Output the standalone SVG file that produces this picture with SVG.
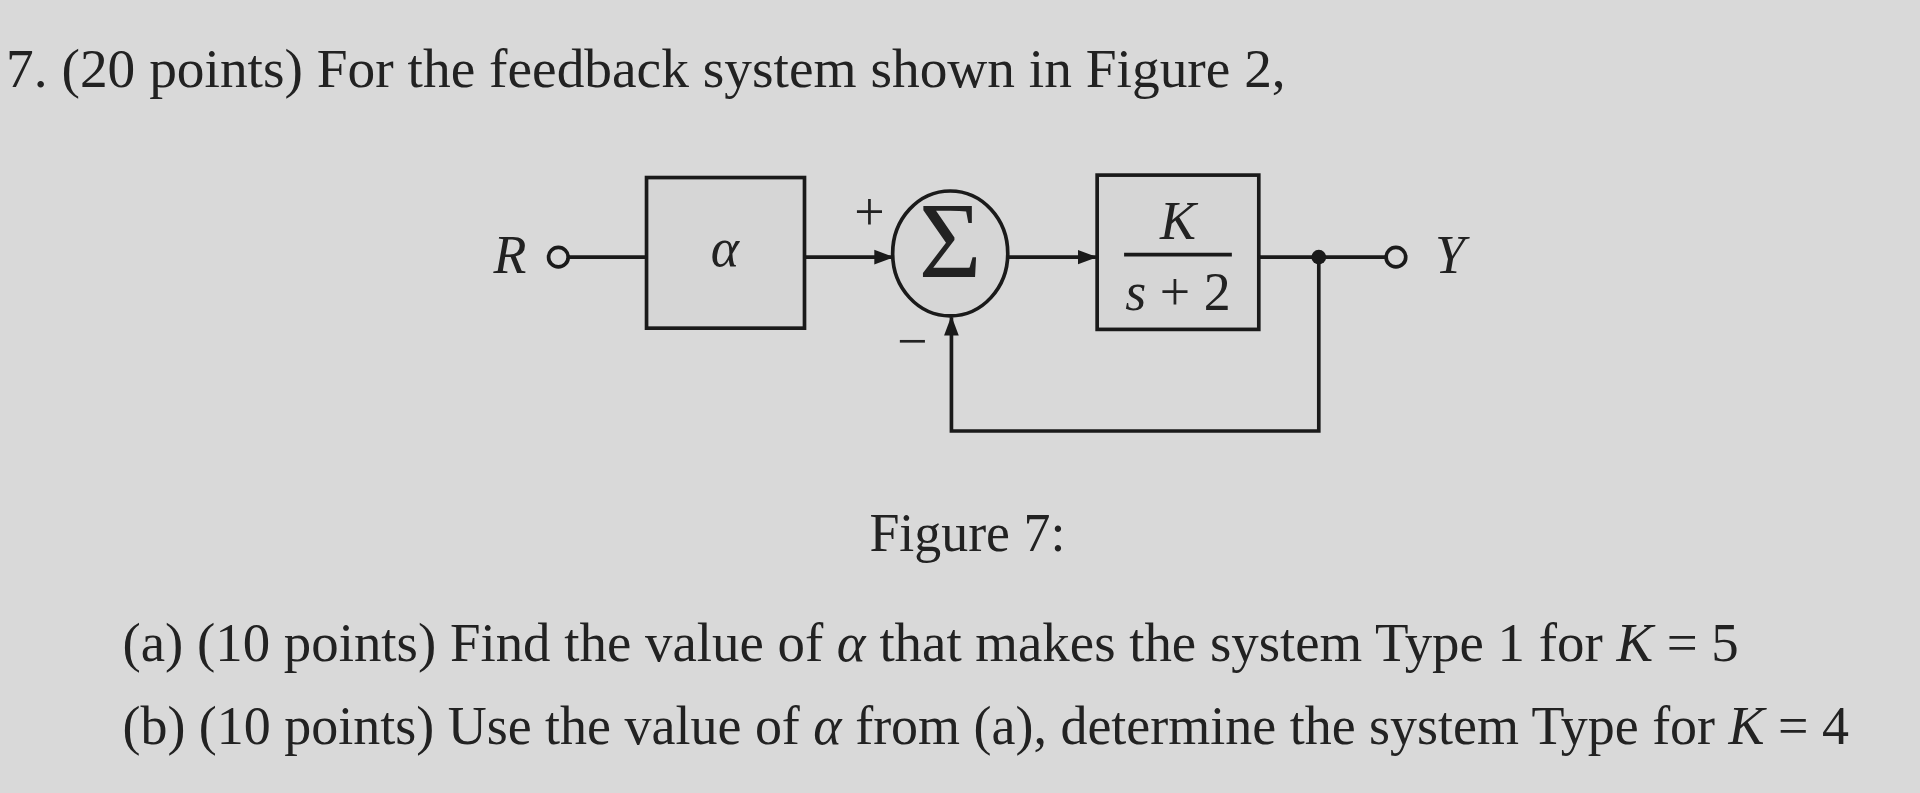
<svg xmlns="http://www.w3.org/2000/svg" width="1920" height="793" viewBox="0 0 1920 793">
<style>
.t{font-family:"Liberation Serif",serif;fill:#222;font-size:44px}
.i{font-style:italic}
.ln{stroke:#1a1a1a;stroke-width:3;fill:none}
.bx{stroke:#1a1a1a;stroke-width:3;fill:#d6d6d6}
</style>
<defs><marker id="ar" markerWidth="16" markerHeight="14" refX="15" refY="7" orient="auto" markerUnits="userSpaceOnUse"><path d="M0,1 L16,7 L0,13 z" fill="#1a1a1a"/></marker></defs>
<rect width="1920" height="793" fill="#d9d9d9"/>
<g transform="scale(1.2245)">
<text class="t" x="5" y="71" textLength="1045" lengthAdjust="spacingAndGlyphs">7. (20 points) For the feedback system shown in Figure 2,</text>
<g id="R"><text class="t i" x="403" y="223" font-size="34">R</text><circle class="ln" cx="456" cy="210" r="8"/></g>
<g id="alpha"><rect class="bx" x="528" y="145" width="129" height="123"/><text class="t i" x="592" y="217" font-size="30" text-anchor="middle">α</text></g>
<g id="sum"><ellipse class="bx" cx="776" cy="207" rx="47" ry="51"/><text class="t" transform="translate(776,226) scale(2)" x="0" y="0" font-size="32" text-anchor="middle">Σ</text>
<text class="t" x="710" y="188" font-size="34" text-anchor="middle">+</text><text class="t" x="745" y="293" font-size="34" text-anchor="middle">−</text></g>
<g id="plant"><rect class="bx" x="896" y="143" width="132" height="126"/><text class="t i" x="962" y="195" font-size="36" text-anchor="middle">K</text><line class="ln" x1="918" y1="208" x2="1006" y2="208"/><text class="t" x="962" y="253" font-size="36" text-anchor="middle"><tspan font-style="italic">s</tspan> + 2</text></g>
<g id="Y"><circle class="ln" cx="1140" cy="210" r="8"/><text class="t i" x="1172" y="223" font-size="34">Y</text></g>
<g id="connectors">
<line class="ln" x1="464" y1="210" x2="528" y2="210"/>
<line class="ln" x1="657" y1="210" x2="729" y2="210" marker-end="url(#ar)"/>
<line class="ln" x1="823" y1="210" x2="895" y2="210" marker-end="url(#ar)"/>
<line class="ln" x1="1028" y1="210" x2="1132" y2="210"/>
<circle cx="1077" cy="210" r="6" fill="#1a1a1a"/>
<polyline class="ln" points="1077,210 1077,352 777,352 777,259" marker-end="url(#ar)"/>
</g>
<text class="t" x="710" y="450" font-size="40">Figure 7:</text>
<text class="t" x="100" y="540" font-size="40" textLength="1320" lengthAdjust="spacingAndGlyphs">(a) (10 points) Find the value of <tspan font-style="italic">α</tspan> that makes the system Type 1 for <tspan font-style="italic">K</tspan> = 5</text>
<text class="t" x="100" y="608" font-size="40" textLength="1410" lengthAdjust="spacingAndGlyphs">(b) (10 points) Use the value of <tspan font-style="italic">α</tspan> from (a), determine the system Type for <tspan font-style="italic">K</tspan> = 4</text>
</g>
</svg>
